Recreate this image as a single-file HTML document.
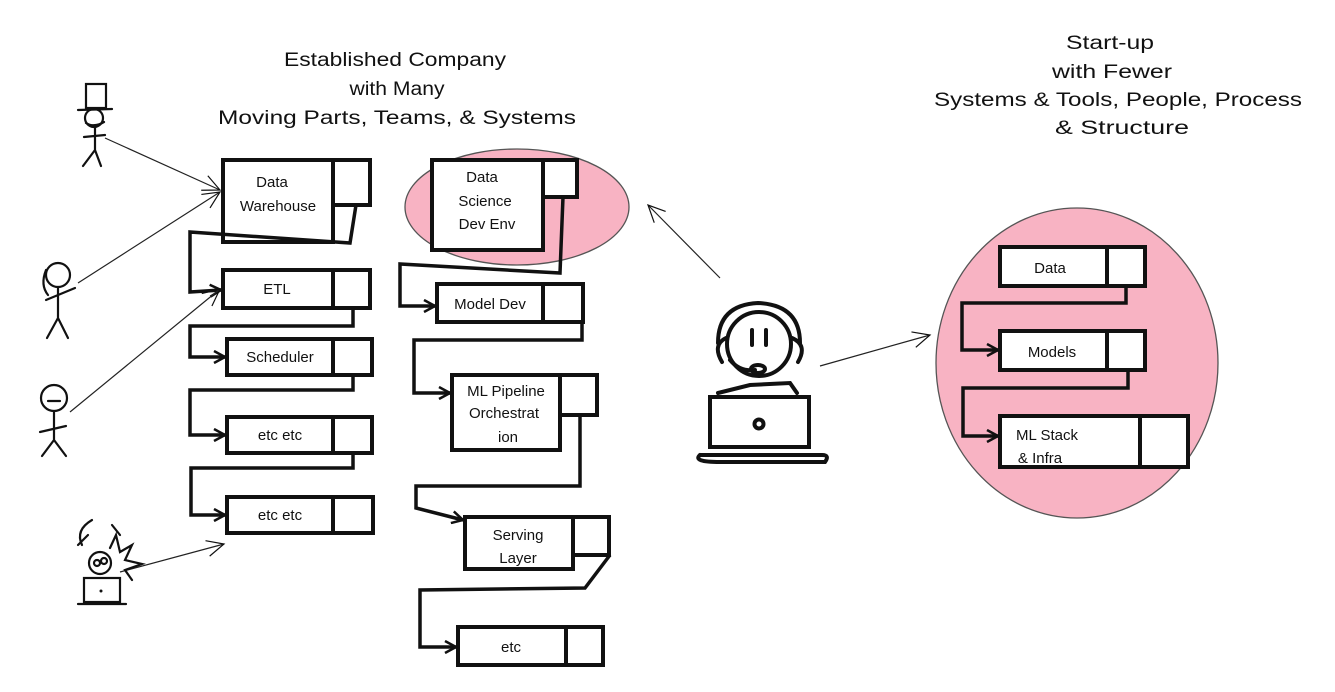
<!DOCTYPE html>
<html><head><meta charset="utf-8"><style>html,body{margin:0;padding:0;background:#fff}svg{display:block}text{font-family:"Liberation Sans",sans-serif;fill:#111}</style></head>
<body>
<svg width="1335" height="692" viewBox="0 0 1335 692" xmlns="http://www.w3.org/2000/svg">
<defs>
<marker id="ah" markerWidth="14" markerHeight="14" refX="12" refY="7" orient="auto" markerUnits="userSpaceOnUse">
<path d="M1,1 L12,7 L1,13" fill="none" stroke="#111" stroke-width="2.5"/>
</marker>
<marker id="ahs" markerWidth="20" markerHeight="20" refX="18" refY="10" orient="auto" markerUnits="userSpaceOnUse">
<path d="M1,2 L18,10 L1,18" fill="none" stroke="#111" stroke-width="1.2"/>
</marker>
</defs>

<!-- titles -->
<g font-size="19" text-anchor="middle">
<text x="395" y="66" textLength="222" lengthAdjust="spacingAndGlyphs">Established Company</text>
<text x="397" y="95" textLength="95" lengthAdjust="spacingAndGlyphs">with Many</text>
<text x="397" y="124" textLength="358" lengthAdjust="spacingAndGlyphs">Moving Parts, Teams, &amp; Systems</text>
<text x="1110" y="49" textLength="88" lengthAdjust="spacingAndGlyphs">Start-up</text>
<text x="1112" y="78" textLength="120" lengthAdjust="spacingAndGlyphs">with Fewer</text>
<text x="1118" y="106" textLength="368" lengthAdjust="spacingAndGlyphs">Systems &amp; Tools, People, Process</text>
<text x="1122" y="134" textLength="134" lengthAdjust="spacingAndGlyphs">&amp; Structure</text>
</g>

<!-- pink ellipses -->
<ellipse cx="517" cy="207" rx="112" ry="58" fill="#f8b3c3" stroke="#555" stroke-width="1.3"/>
<ellipse cx="1077" cy="363" rx="141" ry="155" fill="#f8b3c3" stroke="#555" stroke-width="1.3"/>

<g fill="#fff" stroke="#111" stroke-width="4">
<!-- left column -->
<rect x="223" y="160" width="110" height="82"/><rect x="333" y="160" width="37" height="45"/>
<rect x="223" y="270" width="110" height="38"/><rect x="333" y="270" width="37" height="38"/>
<rect x="227" y="339" width="106" height="36"/><rect x="333" y="339" width="39" height="36"/>
<rect x="227" y="417" width="106" height="36"/><rect x="333" y="417" width="39" height="36"/>
<rect x="227" y="497" width="106" height="36"/><rect x="333" y="497" width="40" height="36"/>
<!-- middle -->
<rect x="432" y="160" width="111" height="90"/><rect x="543" y="160" width="34" height="37"/>
<rect x="437" y="284" width="106" height="38"/><rect x="543" y="284" width="40" height="38"/>
<rect x="452" y="375" width="108" height="75"/><rect x="560" y="375" width="37" height="40"/>
<rect x="465" y="517" width="108" height="52"/><rect x="573" y="517" width="36" height="38"/>
<rect x="458" y="627" width="108" height="38"/><rect x="566" y="627" width="37" height="38"/>
<!-- right -->
<rect x="1000" y="247" width="107" height="39"/><rect x="1107" y="247" width="38" height="39"/>
<rect x="1000" y="331" width="107" height="39"/><rect x="1107" y="331" width="38" height="39"/>
<rect x="1000" y="416" width="140" height="51"/><rect x="1140" y="416" width="48" height="51"/>
</g>

<!-- connectors -->
<g fill="none" stroke="#111" stroke-width="3.5" marker-end="url(#ah)">
<path d="M356,205 L350,243 L190,232 L190,292 L221,290"/>
<path d="M353,308 L353,326 L190,326 L190,357 L225,357"/>
<path d="M353,375 L353,390 L190,390 L190,435 L225,435"/>
<path d="M353,453 L353,468 L191,468 L191,515 L225,515"/>
<path d="M563,197 L560,273 L400,264 L400,306 L435,306"/>
<path d="M582,322 L582,340 L414,340 L414,393 L450,393"/>
<path d="M580,415 L580,486 L416,486 L416,508 L463,520"/>
<path d="M610,555 L585,588 L420,590 L420,647 L456,647"/>
<path d="M1126,286 L1126,303 L962,303 L962,350 L998,350"/>
<path d="M1128,370 L1128,388 L963,388 L963,436 L998,436"/>
</g>

<!-- thin arrows -->
<g fill="none" stroke="#222" stroke-width="1.2" marker-end="url(#ahs)">
<path d="M105,138 L220,190"/>
<path d="M78,283 L220,192"/>
<path d="M70,412 L220,289"/>
<path d="M120,572 L224,544"/>
<path d="M720,278 L648,205"/>
<path d="M820,366 L930,335"/>
</g>

<!-- box labels -->
<g font-size="15" text-anchor="middle">
<text x="272" y="187">Data</text><text x="278" y="211">Warehouse</text>
<text x="277" y="294">ETL</text>
<text x="280" y="362">Scheduler</text>
<text x="280" y="440">etc etc</text>
<text x="280" y="520">etc etc</text>
<text x="482" y="182">Data</text><text x="485" y="206">Science</text><text x="487" y="229">Dev Env</text>
<text x="490" y="309">Model Dev</text>
<text x="506" y="396">ML Pipeline</text><text x="504" y="418">Orchestrat</text><text x="508" y="442">ion</text>
<text x="518" y="540">Serving</text><text x="518" y="563">Layer</text>
<text x="511" y="652">etc</text>
<text x="1050" y="273">Data</text>
<text x="1052" y="357">Models</text>
<text x="1047" y="440">ML Stack</text><text x="1040" y="463">&amp; Infra</text>
</g>

<!-- stick figures -->
<g fill="none" stroke="#111" stroke-width="2.2" stroke-linecap="round">
<!-- top hat man -->
<rect x="86" y="84" width="20" height="24"/><path d="M78,110 L112,109"/>
<circle cx="94" cy="118" r="9"/><path d="M86,123 Q94,128 104,122"/>
<path d="M95,128 L95,150 M84,137 L105,135 M95,150 L83,166 M95,150 L101,166"/>
<!-- woman -->
<circle cx="58" cy="275" r="12"/><path d="M46,270 Q40,285 48,295"/>
<path d="M58,287 L58,318 M46,300 L75,288 M58,318 L47,338 M58,318 L68,338"/>
<!-- glasses person -->
<circle cx="54" cy="398" r="13"/><path d="M48,401 L60,401"/>
<path d="M54,411 L54,440 M40,432 L66,426 M54,440 L42,456 M54,440 L66,456"/>
<!-- stressed person -->
<path d="M92,520 Q75,530 82,545 M112,525 L120,535 M88,535 L78,545"/>
<circle cx="100" cy="563" r="11"/><circle cx="97" cy="563" r="3"/><circle cx="104" cy="561" r="3"/>
<path d="M110,548 L116,535 L120,552 L132,545 L125,560 L142,564 L125,570 L132,580"/>
<rect x="84" y="578" width="36" height="24"/><path d="M78,604 L126,604"/>
</g>
<circle cx="101" cy="591" r="1.5" fill="#111"/>

<!-- main person with headset -->
<g fill="none" stroke="#111" stroke-width="4" stroke-linecap="round">
<path d="M718,343 Q718,305 758,303 Q800,305 800,343"/>
<circle cx="759" cy="344" r="32"/>
<path d="M726,338 Q712,345 722,362 M792,338 Q808,345 798,362"/>
<path d="M752,330 L752,345 M766,330 L766,345"/>
<path d="M730,360 Q740,372 755,370"/><ellipse cx="758" cy="369" rx="7" ry="4"/>
<path d="M718,393 L750,385 L790,383 L797,393"/>
<rect x="710" y="397" width="99" height="50"/>
<path d="M700,455 Q692,462 720,462 L825,462 Q830,455 822,455 L700,455"/>
<circle cx="759" cy="424" r="4.5"/>
</g>
</svg>
</body></html>
